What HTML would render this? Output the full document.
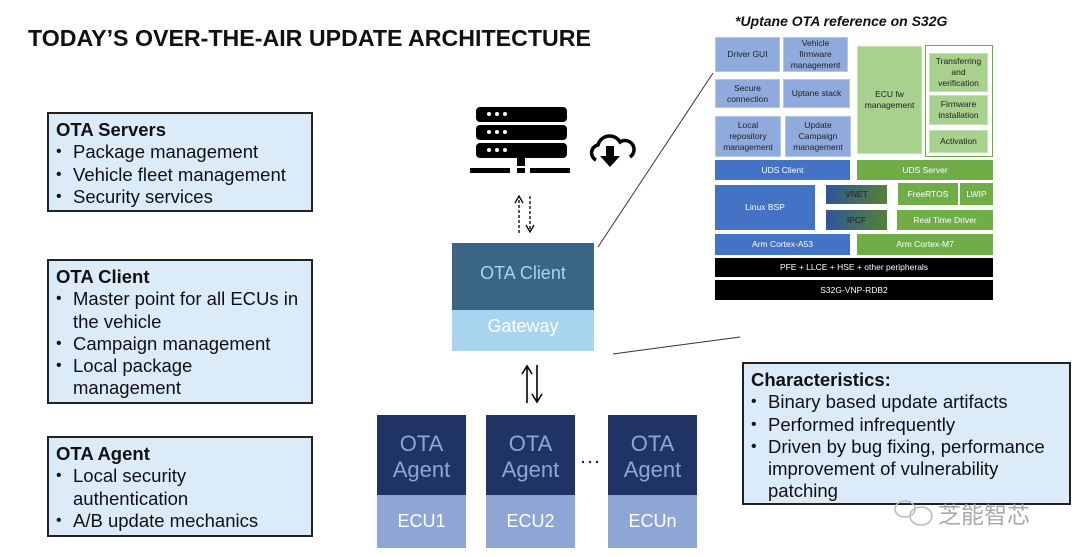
<!DOCTYPE html>
<html><head><meta charset="utf-8"><style>
body{margin:0;width:1080px;height:557px;background:#fff;position:relative;overflow:hidden;font-family:"Liberation Sans",Arial,sans-serif}
.a{position:absolute}
.box{position:absolute;background:#dcebf8;border:2px solid #222;box-sizing:border-box;padding:5px 0 0 7px;font-size:18.5px;line-height:22.3px;color:#111;white-space:nowrap}
.box b{display:block;font-size:18.5px}
.box div{padding-left:17px;position:relative}
.box div:before{content:"•";position:absolute;left:0;font-size:16px}
.s{position:absolute;display:flex;align-items:center;justify-content:center;text-align:center;font-size:8.5px;line-height:11px;color:#222;box-sizing:border-box;white-space:nowrap}
.bl{background:#8faadc;border:1px solid #b4c7e7}
.gr{background:#a9d18e;border:1px solid #c5e0b4}
.db{background:#4472c4;color:#fff}
.dg{background:#70ad47;color:#fff}
.bk{background:#000;color:#fff}
.ecu{position:absolute;width:89px;height:133px;background:#8fa5d4}
.ecu .t{height:80px;background:#1f3464;color:#8fa5d4;font-size:22px;line-height:26px;text-align:center;padding-top:16px;box-sizing:border-box}
.ecu .b{color:#fff;font-size:18px;text-align:center;line-height:53px}
</style></head><body>
<div class="a" style="left:28px;top:25px;font-size:23.2px;font-weight:bold;color:#111;white-space:nowrap">TODAY’S OVER-THE-AIR UPDATE ARCHITECTURE</div>

<div class="box" style="left:47px;top:112px;width:266px;height:100px"><b>OTA Servers</b><div>Package management</div><div>Vehicle fleet management</div><div>Security services</div></div>
<div class="box" style="left:47px;top:259px;width:266px;height:145px"><b>OTA Client</b><div>Master point for all ECUs in<br>the vehicle</div><div>Campaign management</div><div>Local package<br>management</div></div>
<div class="box" style="left:47px;top:436px;width:266px;height:101px"><b>OTA Agent</b><div>Local security<br>authentication</div><div>A/B update mechanics</div></div>
<div class="box" style="left:742px;top:362px;width:329px;height:143px"><b>Characteristics:</b><div>Binary based update artifacts</div><div>Performed infrequently</div><div>Driven by bug fixing, performance<br>improvement of vulnerability<br>patching</div></div>

<svg class="a" style="left:0;top:0" width="1080" height="557">
<g fill="#000">
<rect x="476" y="107" width="91" height="15" rx="4"/><rect x="476" y="125" width="91" height="15" rx="4"/><rect x="476" y="143" width="91" height="15" rx="4"/>
<rect x="517" y="158" width="8" height="8"/>
<rect x="470" y="168" width="40" height="5"/><rect x="517" y="168" width="8" height="5"/><rect x="530" y="168" width="40" height="5"/>
</g>
<g fill="#fff"><circle cx="489" cy="114" r="2"/><circle cx="497" cy="114" r="2"/><circle cx="505" cy="114" r="2"/>
<circle cx="489" cy="132" r="2"/><circle cx="497" cy="132" r="2"/><circle cx="505" cy="132" r="2"/>
<circle cx="489" cy="150" r="2"/><circle cx="497" cy="150" r="2"/><circle cx="505" cy="150" r="2"/></g>
<path d="M596 160 a8 8 0 0 1 2-15 a12 12 0 0 1 22-3 a8 8 0 0 1 10 15" fill="none" stroke="#000" stroke-width="3.5"/>
<path d="M606 146 h8 v10 h6 l-10 11 l-10-11 h6z" fill="#000"/>
<g stroke="#000" stroke-width="1.3" stroke-dasharray="3,2" fill="none"><line x1="519" y1="200" x2="519" y2="233"/><line x1="530" y1="196" x2="530" y2="230"/></g>
<path d="M515 203 l4-7 l4 7" fill="none" stroke="#000" stroke-width="1.3"/>
<path d="M526 225 l4 7 l4-7" fill="none" stroke="#000" stroke-width="1.3"/>
<g stroke="#000" stroke-width="1.6" fill="none"><line x1="527" y1="367" x2="527" y2="403"/><line x1="537" y1="365" x2="537" y2="401"/>
<path d="M522 374 l5-8 l5 8"/><path d="M532 394 l5 8 l5-8"/></g>
<line x1="598" y1="247" x2="713" y2="73" stroke="#333" stroke-width="1"/>
<line x1="613" y1="354" x2="740" y2="337" stroke="#333" stroke-width="1"/>
<g fill="#222"><circle cx="583" cy="462" r="1.2"/><circle cx="590" cy="462" r="1.2"/><circle cx="597" cy="462" r="1.2"/></g>
<g fill="none" stroke="#bbb" stroke-width="1.5"><ellipse cx="905" cy="509" rx="10" ry="8"/><ellipse cx="921" cy="516" rx="11" ry="9"/></g>
</svg>

<div class="a" style="left:452px;top:243px;width:142px;height:67px;background:#3a6585;color:#a8d4f0;font-size:18px;text-align:center;line-height:60px">OTA Client</div>
<div class="a" style="left:452px;top:310px;width:142px;height:41px;background:#a8d4f0;color:#fff;font-size:18px;text-align:center;line-height:32px">Gateway</div>

<div class="ecu" style="left:377px;top:415px"><div class="t">OTA<br>Agent</div><div class="b">ECU1</div></div>
<div class="ecu" style="left:486px;top:415px"><div class="t">OTA<br>Agent</div><div class="b">ECU2</div></div>
<div class="ecu" style="left:608px;top:415px"><div class="t">OTA<br>Agent</div><div class="b">ECUn</div></div>

<div class="a" style="left:735px;top:13px;font-size:14px;font-weight:bold;font-style:italic;color:#111;white-space:nowrap">*Uptane OTA reference on S32G</div>
<div class="s bl" style="left:715px;top:37px;width:65px;height:35px">Driver GUI</div>
<div class="s bl" style="left:783px;top:37px;width:65px;height:35px">Vehicle<br>firmware<br>management</div>
<div class="s bl" style="left:715px;top:79px;width:65px;height:29px">Secure<br>connection</div>
<div class="s bl" style="left:783px;top:79px;width:67px;height:29px">Uptane stack</div>
<div class="s bl" style="left:715px;top:116px;width:66px;height:41px">Local<br>repository<br>management</div>
<div class="s bl" style="left:785px;top:116px;width:66px;height:41px">Update<br>Campaign<br>management</div>
<div class="s gr" style="left:857px;top:46px;width:65px;height:108px">ECU fw<br>management</div>
<div class="a" style="left:925px;top:45px;width:68px;height:112px;border:1.5px solid #70ad47;box-sizing:border-box"></div>
<div class="s gr" style="left:929px;top:53px;width:59px;height:39px">Transferring<br>and<br>verification</div>
<div class="s gr" style="left:929px;top:95px;width:59px;height:30px">Firmware<br>installation</div>
<div class="s gr" style="left:929px;top:130px;width:59px;height:23px">Activation</div>
<div class="s db" style="left:715px;top:160px;width:135px;height:20px">UDS Client</div>
<div class="s dg" style="left:857px;top:160px;width:136px;height:20px">UDS Server</div>
<div class="s db" style="left:715px;top:185px;width:100px;height:45px">Linux BSP</div>
<div class="s" style="left:826px;top:185px;width:61px;height:19px;background:linear-gradient(90deg,#2f5597,#548235)">VNET</div>
<div class="s" style="left:826px;top:210px;width:61px;height:20px;background:linear-gradient(90deg,#2f5597,#548235)">IPCF</div>
<div class="s dg" style="left:898px;top:183px;width:60px;height:22px">FreeRTOS</div>
<div class="s dg" style="left:960px;top:183px;width:33px;height:22px">LWIP</div>
<div class="s dg" style="left:897px;top:210px;width:96px;height:20px">Real Time Driver</div>
<div class="s db" style="left:715px;top:234px;width:135px;height:21px">Arm Cortex-A53</div>
<div class="s dg" style="left:857px;top:234px;width:136px;height:21px">Arm Cortex-M7</div>
<div class="s bk" style="left:715px;top:258px;width:278px;height:19px">PFE + LLCE + HSE + other peripherals</div>
<div class="s bk" style="left:715px;top:280px;width:278px;height:20px">S32G-VNP-RDB2</div>

<div class="a" style="left:938px;top:496px;font-size:23px;color:#aaa;font-family:'Liberation Sans','Noto Sans CJK SC',sans-serif">芝能智芯</div>
</body></html>
